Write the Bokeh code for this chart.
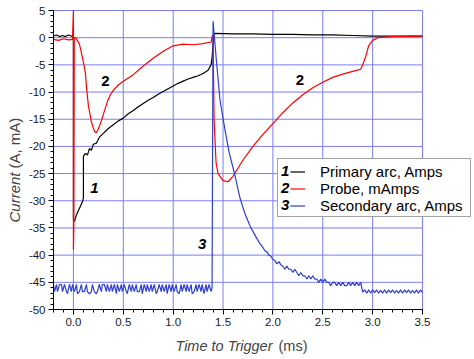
from math import pi
from bokeh.plotting import figure
from bokeh.models import Range1d, FixedTicker, NumeralTickFormatter, Label, Legend, LegendItem
from bokeh.embed import file_html
from bokeh.resources import INLINE

FONT = "Liberation Sans"

# ---------------- data ----------------
black_t = [-0.20, -0.17, -0.14, -0.11, -0.08, -0.05, -0.02, 0.0, 0.0, 0.01, 0.03, 0.05, 0.07,
           0.09, 0.10, 0.10, 0.12, 0.14, 0.16, 0.18, 0.20, 0.23, 0.26, 0.30, 0.35, 0.40, 0.45,
           0.50, 0.55, 0.60, 0.65, 0.70, 0.75, 0.80, 0.85, 0.90, 0.95, 1.00, 1.05, 1.10, 1.15,
           1.20, 1.25, 1.30, 1.35, 1.38, 1.39, 1.40, 1.41, 1.42, 1.60, 1.80, 2.00, 2.20, 2.40,
           2.60, 2.80, 3.00, 3.20, 3.50]
black_i = [0.3, 0.5, 0.2, 0.4, 0.2, 0.5, 0.3, 0.2, -33.5, -33.8, -32.6, -31.8, -31.0,
           -30.2, -29.5, -21.8, -21.3, -21.6, -20.4, -20.7, -19.6, -19.4, -18.3, -17.6, -16.7,
           -16.0, -15.3, -14.8, -14.0, -13.4, -12.7, -12.1, -11.5, -11.0, -10.4, -9.9, -9.4,
           -8.9, -8.4, -8.0, -7.6, -7.3, -7.0, -6.6, -6.0, -5.0, -3.6, -1.2, 0.4, 0.8, 0.7,
           0.7, 0.6, 0.6, 0.5, 0.5, 0.4, 0.3, 0.3, 0.3]

red_t = [-0.20, -0.15, -0.10, -0.05, -0.01, 0.0, 0.0, 0.004, 0.008, 0.02, 0.04, 0.06, 0.08,
         0.10, 0.12, 0.13, 0.15, 0.18, 0.21, 0.23, 0.25, 0.28, 0.31, 0.34, 0.37, 0.40, 0.45,
         0.50, 0.60, 0.70, 0.80, 0.90, 1.00, 1.10, 1.20, 1.30, 1.38, 1.395, 1.40, 1.41, 1.43,
         1.45, 1.50, 1.55, 1.60, 1.70, 1.80, 1.90, 2.00, 2.10, 2.20, 2.30, 2.40, 2.50, 2.60,
         2.70, 2.80, 2.88, 2.90, 2.93, 2.96, 3.00, 3.05, 3.20, 3.50]
red_i = [-0.3, -0.5, -0.2, -0.4, -0.3, 5.0, -39.0, -35.0, 0.0, 0.0, -0.5, -1.2, -2.8,
         -4.5, -6.5, -9.0, -12.5, -15.5, -17.2, -17.5, -16.8, -15.3, -13.5, -11.8, -10.5,
         -9.7, -8.7, -8.0, -6.8, -5.2, -3.8, -2.5, -1.5, -1.2, -1.3, -1.1, -0.8, 0.5, -0.5,
         -15.0, -23.0, -25.0, -26.3, -26.5, -25.5, -22.5, -20.0, -17.8, -15.8, -13.8, -12.0,
         -10.5, -9.2, -8.2, -7.3, -6.7, -6.2, -5.8, -5.0, -3.5, -1.5, -0.5, 0.0, 0.2, 0.3]

blue_t = [-0.20, -0.19, -0.17, -0.16, -0.14, -0.12, -0.11, -0.09, -0.07, -0.06, -0.04, -0.02,
          -0.01, 0.01, 0.03, 0.04, 0.06, 0.08, 0.09, 0.11, 0.13, 0.14, 0.16, 0.18, 0.19, 0.21,
          0.23, 0.24, 0.26, 0.28, 0.29, 0.31, 0.33, 0.34, 0.36, 0.38, 0.39, 0.41, 0.43, 0.44,
          0.46, 0.48, 0.49, 0.51, 0.53, 0.54, 0.56, 0.58, 0.59, 0.61, 0.63, 0.64, 0.66, 0.68,
          0.69, 0.71, 0.73, 0.74, 0.76, 0.78, 0.79, 0.81, 0.83, 0.84, 0.86, 0.88, 0.89, 0.91,
          0.93, 0.94, 0.96, 0.98, 0.99, 1.01, 1.03, 1.04, 1.06, 1.08, 1.09, 1.11, 1.13, 1.14,
          1.16, 1.18, 1.19, 1.21, 1.23, 1.24, 1.26, 1.28, 1.29, 1.31, 1.33, 1.34, 1.36, 1.38,
          1.39, 1.40, 1.43, 1.47, 1.52, 1.56, 1.62, 1.67, 1.72, 1.77, 1.81, 1.86,
          1.90, 1.92, 1.94, 1.96, 1.98, 2.00, 2.02, 2.04, 2.06, 2.08, 2.10, 2.12, 2.14, 2.16,
          2.18, 2.20, 2.22, 2.24, 2.26, 2.28, 2.30, 2.32, 2.34, 2.36, 2.38, 2.40, 2.42, 2.44,
          2.46, 2.48, 2.50, 2.52, 2.54, 2.56, 2.58, 2.60, 2.62, 2.64, 2.66, 2.68, 2.70, 2.72,
          2.74, 2.76, 2.78, 2.80, 2.82, 2.84, 2.86, 2.88, 2.90, 2.92, 2.94, 2.96, 2.98, 3.00,
          3.02, 3.04, 3.06, 3.08, 3.10, 3.12, 3.14, 3.16, 3.18, 3.20, 3.22, 3.24, 3.26, 3.28,
          3.30, 3.32, 3.34, 3.36, 3.38, 3.40, 3.42, 3.44, 3.46, 3.48, 3.50]
blue_i = [-45.4, -46.7, -45.4, -46.7, -45.4, -45.4, -46.7, -45.4, -46.7, -47.1, -45.4, -46.7,
          -45.4, -46.7, -45.4, -47.1, -46.7, -45.4, -46.7, -46.7, -45.4, -46.7, -47.1, -46.7,
          -45.4, -46.7, -47.1, -46.7, -45.4, -46.7, -45.4, -45.4, -46.7, -45.4, -46.7, -45.4,
          -46.7, -45.4, -47.1, -45.4, -46.7, -45.4, -46.7, -45.4, -46.7, -47.1, -45.4, -46.7,
          -45.4, -46.7, -45.4, -46.7, -46.7, -45.4, -47.1, -45.4, -46.7, -45.4, -46.7, -45.4,
          -46.7, -45.4, -47.1, -46.7, -45.4, -46.7, -45.4, -46.7, -45.4, -47.1, -45.4, -46.7,
          -45.4, -46.7, -45.4, -46.7, -47.1, -45.4, -46.7, -45.4, -46.7, -45.4, -46.7, -45.4,
          -47.1, -46.7, -45.4, -46.7, -45.4, -46.7, -45.4, -47.1, -45.4, -46.7, -45.4, -46.7,
          -46.0, 3.0, -3.5, -11.6, -17.0, -21.0, -25.4, -29.5, -32.4, -34.6, -36.0, -37.6,
          -38.6, -39.2, -39.4, -40.0, -40.2, -40.8, -41.0, -41.6, -41.2, -41.8, -42.0, -42.6,
          -42.0, -42.6, -42.6, -43.2, -42.6, -43.2, -43.8, -43.2, -43.8, -43.8, -44.4, -43.8,
          -44.4, -43.8, -44.4, -44.4, -45.0, -44.4, -45.0, -44.4, -45.0, -45.0, -45.6, -45.0,
          -45.0, -45.6, -45.0, -45.6, -45.0, -45.6, -45.6, -45.0, -45.6, -45.0, -45.6, -45.0,
          -45.6, -45.0, -46.8, -46.4, -47.0, -46.4, -47.0, -46.4, -46.9, -46.4, -47.0, -46.5,
          -47.0, -46.4, -47.0, -46.4, -46.9, -46.4, -47.0, -46.5, -47.0, -46.4, -47.0, -46.4,
          -46.9, -46.4, -47.0, -46.5, -47.0, -46.4, -47.0, -46.4, -46.9]

x_lo, x_hi = -0.2, 3.5
y_lo, y_hi = -50, 5
x_major = [0.0, 0.5, 1.0, 1.5, 2.0, 2.5, 3.0, 3.5]
y_major = [-50, -45, -40, -35, -30, -25, -20, -15, -10, -5, 0, 5]
x_minor = [round(-0.2 + 0.1 * k, 1) for k in range(38)]
y_minor = list(range(-50, 6))

legend_labels = ["Primary arc, Amps", "Probe, mAmps", "Secondary arc, Amps"]
legend_numbers = ["1", "2", "3"]
colors = ["#000000", "#ff0000", "#2e3fd1"]
GRID = "#7c7cf4"

# curve tags: (text, t, I, style)
tags = [("1", 0.21, -27.6, "bold italic"), ("2", 0.32, -7.9, "bold"),
        ("2", 2.27, -7.7, "bold"), ("3", 1.29, -38.0, "bold italic")]

# ---------------- figure ----------------
# The frame fills the whole canvas; the axes are pinned at the data edges of the plot box.
W, H = 474, 359
PL, PR, PT, PB = 53, 422, 10, 309          # plot box in pixels
sx = (PR - PL) / (x_hi - x_lo)
sy = (PB - PT) / (y_hi - y_lo)
xr = Range1d(x_lo - PL / sx, x_hi + (W - PR) / sx)
yr = Range1d(y_lo - (H - PB) / sy, y_hi + PT / sy)


def dx(px):  # pixel column -> data x
    return x_lo + (px - PL) / sx


def dy(py):  # pixel row -> data y
    return y_hi - (py - PT) / sy


p = figure(width=W, height=H, output_backend="svg", toolbar_location=None,
           x_range=xr, y_range=yr, min_border=0)
p.outline_line_color = None
p.background_fill_color = "white"
p.border_fill_color = "white"
p.xgrid.visible = False
p.ygrid.visible = False

for ax in (p.xaxis[0], p.yaxis[0]):
    ax.axis_line_color = "black"
    ax.axis_line_width = 1
    ax.major_tick_line_color = "black"
    ax.minor_tick_line_color = "black"
    ax.major_tick_out = 5
    ax.major_tick_in = 0
    ax.minor_tick_out = 3
    ax.minor_tick_in = 0
    ax.major_label_text_font = FONT
    ax.major_label_text_font_size = "11.5px"
    ax.major_label_text_color = "#1a1a1a"
    ax.major_label_standoff = 3

p.xaxis.ticker = FixedTicker(ticks=x_major, minor_ticks=x_minor)
p.yaxis.ticker = FixedTicker(ticks=y_major, minor_ticks=y_minor)
p.xaxis.formatter = NumeralTickFormatter(format="0.0")
p.yaxis.formatter = NumeralTickFormatter(format="0")
p.xaxis.fixed_location = y_lo
p.yaxis.fixed_location = x_lo
p.xaxis.bounds = (x_lo, x_hi)
p.yaxis.bounds = (y_lo, y_hi)

# grid lines of the plot box (from the tick lists)
gx = x_major
gy = [v for v in y_major if v > y_lo]
p.segment(x0=gx, y0=[y_lo] * len(gx), x1=gx, y1=[y_hi] * len(gx), line_color=GRID, line_width=1)
p.segment(x0=[x_lo] * len(gy), y0=gy, x1=[x_hi] * len(gy), y1=gy, line_color=GRID, line_width=1)

r_black = p.line(black_t, black_i, line_color=colors[0], line_width=1.2)
r_red = p.line(red_t, red_i, line_color=colors[1], line_width=1.2)
r_blue = p.line(blue_t, blue_i, line_color=colors[2], line_width=1.2)
rends = [r_black, r_red, r_blue]

for txt, tx, ty, st in tags:
    p.add_layout(Label(x=tx, y=ty, text=txt, text_font=FONT, text_font_size="15px",
                       text_font_style=st, text_align="center", text_baseline="middle",
                       text_color="black"))

# legend: a boxed legend holding the numbers (box 277..469 x 160..217 px) ...
legB = Legend(items=[LegendItem(label=l, renderers=[r]) for l, r in zip(legend_numbers, rends)],
              location=(277, H - 217), padding=3, spacing=0, margin=0,
              glyph_width=0, glyph_height=15, label_height=15, label_width=186, label_standoff=0,
              label_text_font=FONT, label_text_font_size="15px", label_text_font_style="bold italic",
              label_text_color="black", border_line_color="#444444", border_line_width=1,
              background_fill_color="white", background_fill_alpha=1)
p.add_layout(legB)
# ... and an unboxed legend with the line samples and series names on top of it
legA = Legend(items=[LegendItem(label=l, renderers=[r]) for l, r in zip(legend_labels, rends)],
              location=(290, H - 214), padding=0, spacing=0, margin=0,
              glyph_width=15, glyph_height=15, label_height=15, label_standoff=15,
              label_text_font=FONT, label_text_font_size="15px", label_text_color="black",
              border_line_color=None, background_fill_color=None, background_fill_alpha=0)
p.add_layout(legA)

# axis titles with mixed styles
p.add_layout(Label(x=dx(272), y=dy(345), text="Time to Trigger", text_font=FONT,
                   text_font_size="14.5px", text_font_style="italic", text_align="right",
                   text_baseline="middle"))
p.add_layout(Label(x=dx(278), y=dy(345), text="(ms)", text_font=FONT, text_font_size="14.5px",
                   text_align="left", text_baseline="middle"))
p.add_layout(Label(x=dx(14), y=dy(172), text="Current", text_font=FONT, text_font_size="15px",
                   text_font_style="italic", text_align="right", text_baseline="middle",
                   angle=pi / 2))
p.add_layout(Label(x=dx(14), y=dy(168), text="(A, mA)", text_font=FONT, text_font_size="15px",
                   text_align="left", text_baseline="middle", angle=pi / 2))

open("out.html", "w").write(file_html(p, INLINE))
